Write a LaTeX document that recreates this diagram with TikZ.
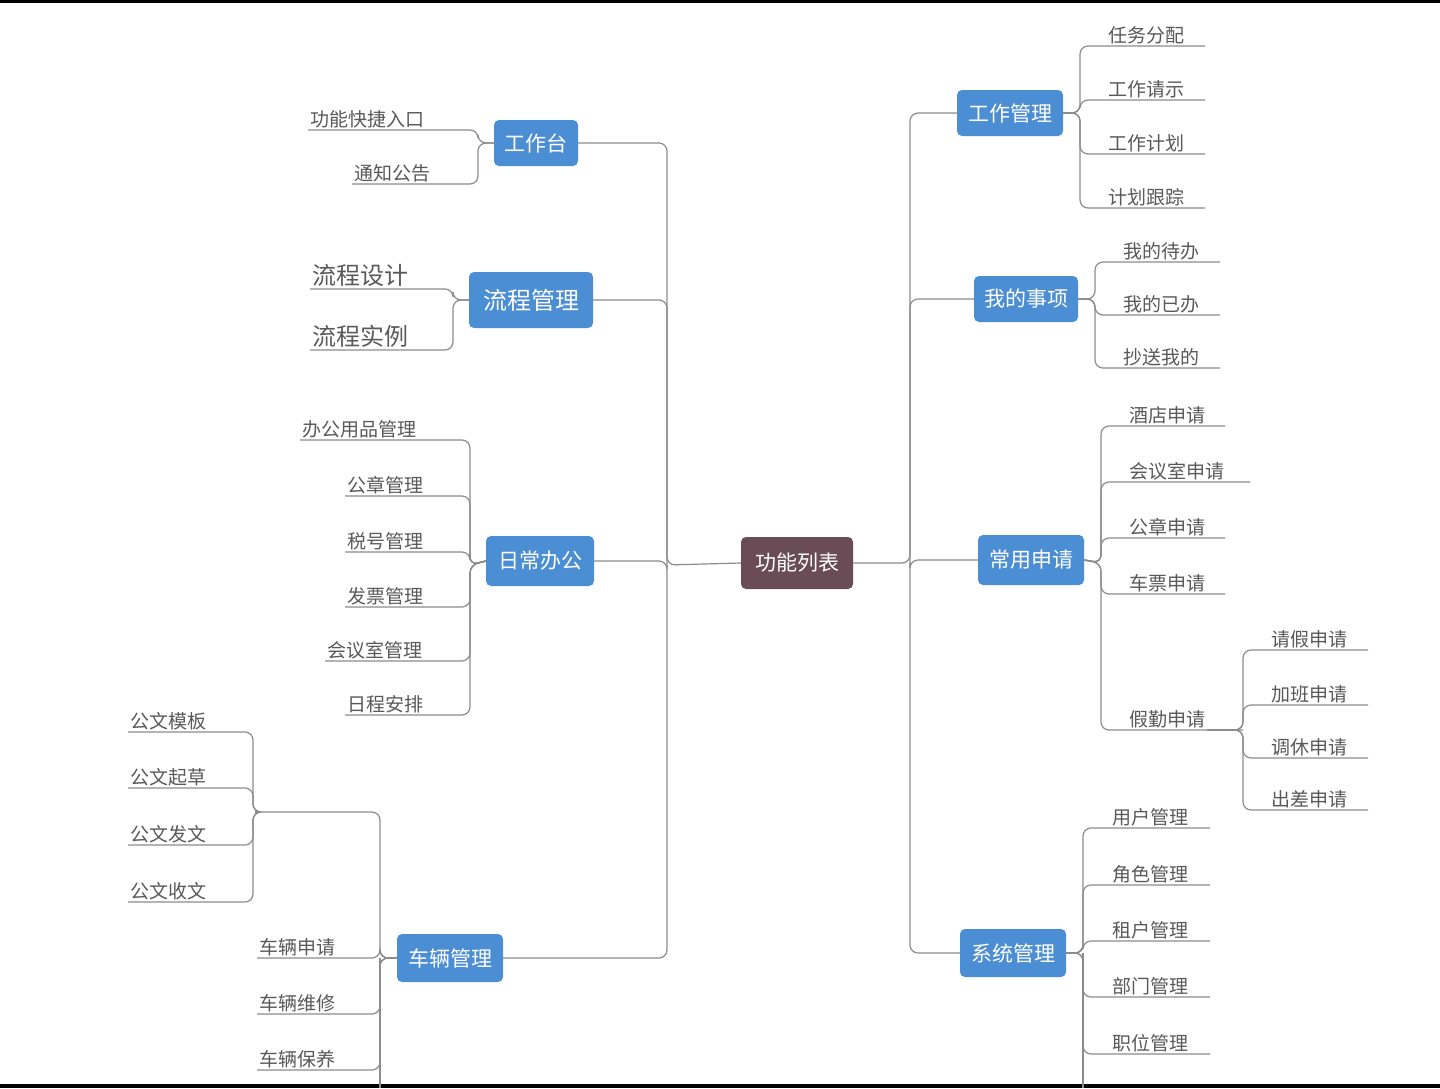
\documentclass[tikz,border=0pt]{standalone}
\usepackage{fontspec}
\setmainfont{Noto Sans CJK SC}
\begin{document}
\begin{tikzpicture}[x=1pt,y=-1pt,
  ln/.style={draw=black!45,line width=1.2pt,rounded corners=8pt},
  blue/.style={fill=nodeblue,text=white,rounded corners=5pt,minimum height=46pt,font=\fontsize{21}{24}\selectfont,inner xsep=8pt},
  leaf/.style={text=black!65,font=\fontsize{19}{22}\selectfont,inner sep=2pt,anchor=south west},
  leafR/.style={leaf,anchor=south west}]
\definecolor{nodeblue}{HTML}{4C8ED4}
\useasboundingbox (0,0) rectangle (1440,1088);
\fill[white] (0,0) rectangle (1440,1088);
\fill[black] (0,0) rectangle (1440,3);
\fill[black] (0,1084) rectangle (1440,1088);
% root
\node[blue,fill=black!62!purple!40!gray,minimum width=112pt,minimum height=52pt] (root) at (797,563) {功能列表};
% left main
\node[blue,minimum width=84pt] (gzt) at (536,143) {工作台};
\node[blue,minimum width=124pt,minimum height=56pt,font=\fontsize{24}{26}\selectfont] (lc) at (531,300) {流程管理};
\node[blue,minimum width=108pt,minimum height=50pt] (rc) at (540,561) {日常办公};
\node[blue,minimum width=106pt,minimum height=48pt] (cl) at (450,958) {车辆管理};
% right main
\node[blue,minimum width=106pt] (gzgl) at (1010,113) {工作管理};
\node[blue,minimum width=104pt] (wdsx) at (1026,299) {我的事项};
\node[blue,minimum width=106pt,minimum height=50pt] (cysq) at (1031,560) {常用申请};
\node[blue,minimum width=106pt,minimum height=48pt] (xtgl) at (1013,953) {系统管理};
% trunks
\draw[ln] (root.west) -- (667,565) |- (gzt.east);
\draw[ln] (667,565) |- (lc.east);
\draw[ln] (667,565) |- (rc.east);
\draw[ln] (667,565) |- (cl.east);
\draw[ln] (root.east) -- (910,563) |- (gzgl.west);
\draw[ln] (910,563) |- (wdsx.west);
\draw[ln] (910,563) |- (cysq.west);
\draw[ln] (910,563) |- (xtgl.west);
% left leaves: text/y/x1
\foreach \t/\y/\a [count=\i] in {功能快捷入口/130/308,通知公告/184/352}{
  \node[leaf] (a\i) at (\a,\y) {\t};
  \draw[ln] (gzt.west) -- (478,143) |- (a\i.south west);}
\foreach \t/\y/\a [count=\i] in {流程设计/289/310,流程实例/350/310}{
  \node[leaf,font=\fontsize{24}{26}\selectfont] (b\i) at (\a,\y) {\t};
  \draw[ln] (lc.west) -- (453,300) |- (b\i.south west);}
\foreach \t/\y/\a [count=\i] in {办公用品管理/440/300,公章管理/496/345,税号管理/552/345,发票管理/607/345,会议室管理/661/325,日程安排/715/345}{
  \node[leaf] (c\i) at (\a,\y) {\t};
  \draw[ln] (rc.west) -- (470,565) |- (c\i.south west);}
\coordinate (gw) at (255,812);
\foreach \t/\y [count=\i] in {公文模板/732,公文起草/788,公文发文/845,公文收文/902}{
  \node[leaf] (d\i) at (128,\y) {\t};
  \draw[ln] (gw) -- (253,812) |- (d\i.south west);}
\foreach \t/\y [count=\i] in {车辆申请/958,车辆维修/1014,车辆保养/1070}{
  \node[leaf] (e\i) at (257,\y) {\t};
  \draw[ln] (cl.west) -- (380,958) |- (e\i.south west);}
\draw[ln] (cl.west) -- (380,958) |- (gw);
\draw[ln] (380,958) -- (380,1088);
% right leaves: text/y/x2
\foreach \t/\y [count=\i] in {任务分配/46,工作请示/100,工作计划/154,计划跟踪/208}{
  \node[leaf] (f\i) at (1106,\y) {\t};
  \draw[ln] (gzgl.east) -- (1080,113) |- (1205,\y);}
\foreach \t/\y [count=\i] in {我的待办/262,我的已办/315,抄送我的/368}{
  \node[leaf] (g\i) at (1121,\y) {\t};
  \draw[ln] (wdsx.east) -- (1095,299) |- (1220,\y);}
\foreach \t/\y/\b [count=\i] in {酒店申请/426/1225,会议室申请/482/1250,公章申请/538/1225,车票申请/594/1225,假勤申请/730/1243}{
  \node[leaf] (h\i) at (1127,\y) {\t};
  \draw[ln] (cysq.east) -- (1101,563) |- (\b,\y);}
\foreach \t/\y [count=\i] in {请假申请/650,加班申请/705,调休申请/758,出差申请/810}{
  \node[leaf] (k\i) at (1269,\y) {\t};
  \draw[ln] (h5.south east) ++(0,0) -- (1243,730) |- (1368,\y);}
\foreach \t/\y [count=\i] in {用户管理/828,角色管理/885,租户管理/941,部门管理/997,职位管理/1054}{
  \node[leaf] (m\i) at (1110,\y) {\t};
  \draw[ln] (xtgl.east) -- (1083,953) |- (1210,\y);}
\draw[ln] (1083,953) -- (1083,1088);
\end{tikzpicture}
\end{document}
